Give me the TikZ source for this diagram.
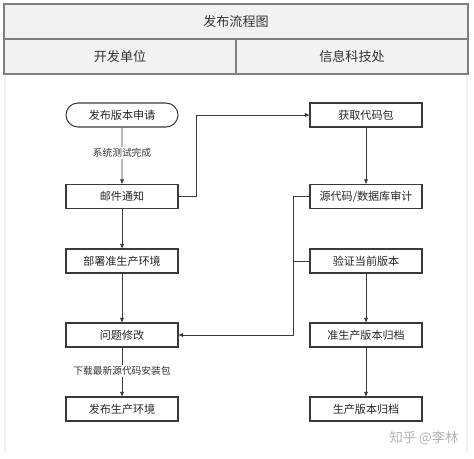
\documentclass[tikz,border=0pt]{standalone}
\usepackage{fontspec}
\newfontfamily\cjk{Noto Sans CJK SC}
\usetikzlibrary{arrows.meta,shapes.misc}
\definecolor{hdrfill}{HTML}{F2F2F2}
\definecolor{hdrline}{HTML}{7F7F7F}
\definecolor{flow}{HTML}{3A3A3A}
\begin{document}
\begin{tikzpicture}[x=0.75pt,y=-0.75pt,
  hdr/.style={draw=hdrline,line width=1.1pt,fill=hdrfill},
  proc/.style={draw=flow,line width=0.8pt,minimum width=84pt,minimum height=18pt,inner sep=0pt,font=\cjk\fontsize{8.3}{10}\selectfont,text=black!85},
  startbox/.style={proc,rounded rectangle},
  conn/.style={draw=flow,line width=0.6pt},
  arr/.style={conn,-{Triangle[length=3.5pt,width=2.8pt]}},
  lbl/.style={fill=white,inner sep=1pt,font=\cjk\fontsize{7.3}{9}\selectfont,text=black!80}]
\useasboundingbox (0,0) rectangle (474,458);
% faint side lines of swimlane area
\draw[black!6,line width=1pt] (5,74) -- (5,452);
\draw[black!6,line width=1pt] (467,74) -- (467,452);
% header
\path[hdr] (4,4) rectangle (468,39);
\path[hdr] (4,39) rectangle (236,74);
\path[hdr] (236,39) rectangle (468,74);
\node[font=\cjk\fontsize{9.8}{12}\selectfont,text=black!80] (title) at (236,21.5) {发布流程图};
\node[font=\cjk\fontsize{9.8}{12}\selectfont,text=black!80] (laneA) at (120,56.5) {开发单位};
\node[font=\cjk\fontsize{9.8}{12}\selectfont,text=black!80] (laneB) at (352,56.5) {信息科技处};
% left column
\node[startbox] (a1) at (122,115) {发布版本申请};
\node[proc] (a2) at (122,196.5) {邮件通知};
\node[proc] (a3) at (122,261) {部署准生产环境};
\node[proc] (a4) at (122,335) {问题修改};
\node[proc] (a5) at (122,409) {发布生产环境};
% right column
\node[proc] (b1) at (366,115) {获取代码包};
\node[proc] (b2) at (366,196.5) {源代码/数据库审计};
\node[proc] (b3) at (366,261) {验证当前版本};
\node[proc] (b4) at (366,335) {准生产版本归档};
\node[proc] (b5) at (366,409) {生产版本归档};
% left connectors
\draw[arr] (a1) -- node[lbl,pos=0.45] (l1) {系统测试完成} (a2);
\draw[arr] (a2) -- (a3);
\draw[arr] (a3) -- (a4);
\draw[arr] (a4) -- node[lbl,pos=0.48] (l2) {下载最新源代码安装包} (a5);
% cross connectors
\coordinate (c1) at (196,196.5);
\coordinate (c2) at (196,115);
\draw[arr] (a2.east) -- (c1) -- (c2) -- (b1.west);
\coordinate (d1) at (293,196.5);
\coordinate (d2) at (293,335);
\coordinate (d3) at (293,261);
\draw[arr] (b2.west) -- (d1) -- (d2) -- (a4.east);
\draw[conn] (b3.west) -- (d3);
% right connectors
\draw[arr] (b1) -- (b2);
\draw[arr] (b3) -- (b4);
\draw[arr] (b4) -- (b5);
% watermark
\node[font=\cjk\fontsize{10}{12}\selectfont,text=black!30] (wm) at (424,438) {知乎 @李林};
\end{tikzpicture}
\end{document}
